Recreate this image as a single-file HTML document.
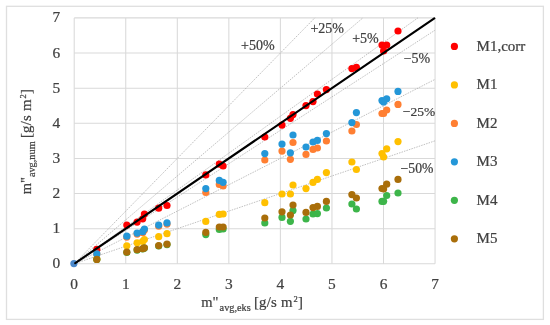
<!DOCTYPE html>
<html lang="en"><head><meta charset="utf-8"><title>Chart</title>
<style>html,body{margin:0;padding:0;background:#fff;}body{width:550px;height:325px;overflow:hidden;}svg{display:block;}text{font-family:"Liberation Serif", "DejaVu Serif", serif;fill:#404040;stroke:#404040;stroke-width:0.22px;}</style></head><body>
<svg width="550" height="325" viewBox="0 0 550 325">
<rect x="0" y="0" width="550" height="325" fill="#ffffff"/>
<rect x="6.5" y="6.3" width="536.9" height="313.1" fill="#fff" stroke="#dfdfdf" stroke-width="1.3"/>
<g stroke="#d9d9d9" stroke-width="1.05" fill="none"><line x1="74.20" y1="17.89" x2="74.20" y2="263.80"/><line x1="74.20" y1="263.80" x2="435.05" y2="263.80"/><line x1="125.75" y1="17.89" x2="125.75" y2="263.80"/><line x1="74.20" y1="228.67" x2="435.05" y2="228.67"/><line x1="177.30" y1="17.89" x2="177.30" y2="263.80"/><line x1="74.20" y1="193.54" x2="435.05" y2="193.54"/><line x1="228.85" y1="17.89" x2="228.85" y2="263.80"/><line x1="74.20" y1="158.41" x2="435.05" y2="158.41"/><line x1="280.40" y1="17.89" x2="280.40" y2="263.80"/><line x1="74.20" y1="123.28" x2="435.05" y2="123.28"/><line x1="331.95" y1="17.89" x2="331.95" y2="263.80"/><line x1="74.20" y1="88.15" x2="435.05" y2="88.15"/><line x1="383.50" y1="17.89" x2="383.50" y2="263.80"/><line x1="74.20" y1="53.02" x2="435.05" y2="53.02"/><line x1="435.05" y1="17.89" x2="435.05" y2="263.80"/><line x1="74.20" y1="17.89" x2="435.05" y2="17.89"/></g>
<g stroke="#9e9e9e" stroke-width="0.65" stroke-dasharray="1.5 1.1" fill="none"><line x1="74.20" y1="263.80" x2="314.77" y2="17.89"/><line x1="74.20" y1="263.80" x2="362.88" y2="17.89"/><line x1="74.20" y1="263.80" x2="417.87" y2="17.89"/><line x1="74.20" y1="263.80" x2="435.05" y2="30.19"/><line x1="74.20" y1="263.80" x2="435.05" y2="79.37"/><line x1="74.20" y1="263.80" x2="435.05" y2="140.84"/></g>
<g fill="#FF0000"><circle cx="96.8" cy="249.4" r="3.6"/><circle cx="126.8" cy="225.1" r="3.6"/><circle cx="137.1" cy="222.1" r="3.6"/><circle cx="142.7" cy="218.8" r="3.6"/><circle cx="144.4" cy="214.0" r="3.6"/><circle cx="158.7" cy="208.2" r="3.6"/><circle cx="167.0" cy="205.5" r="3.6"/><circle cx="205.8" cy="174.9" r="3.6"/><circle cx="219.3" cy="164.1" r="3.6"/><circle cx="223.1" cy="166.0" r="3.6"/><circle cx="264.8" cy="137.0" r="3.6"/><circle cx="282.0" cy="125.1" r="3.6"/><circle cx="290.4" cy="118.3" r="3.6"/><circle cx="293.0" cy="114.6" r="3.6"/><circle cx="306.0" cy="105.6" r="3.6"/><circle cx="313.0" cy="101.6" r="3.6"/><circle cx="317.4" cy="94.0" r="3.6"/><circle cx="326.4" cy="89.6" r="3.6"/><circle cx="351.9" cy="68.6" r="3.6"/><circle cx="356.4" cy="67.4" r="3.6"/><circle cx="382.0" cy="45.1" r="3.6"/><circle cx="383.6" cy="51.0" r="3.6"/><circle cx="386.7" cy="45.1" r="3.6"/><circle cx="398.0" cy="31.0" r="3.6"/></g>
<g fill="#FFC000"><circle cx="96.8" cy="259.0" r="3.6"/><circle cx="126.8" cy="245.8" r="3.6"/><circle cx="137.1" cy="242.8" r="3.6"/><circle cx="142.7" cy="241.4" r="3.6"/><circle cx="144.4" cy="239.5" r="3.6"/><circle cx="158.7" cy="236.7" r="3.6"/><circle cx="167.0" cy="233.7" r="3.6"/><circle cx="205.8" cy="221.4" r="3.6"/><circle cx="219.3" cy="214.4" r="3.6"/><circle cx="223.1" cy="214.0" r="3.6"/><circle cx="264.8" cy="202.7" r="3.6"/><circle cx="282.0" cy="194.0" r="3.6"/><circle cx="290.4" cy="194.0" r="3.6"/><circle cx="293.0" cy="185.0" r="3.6"/><circle cx="306.0" cy="188.6" r="3.6"/><circle cx="313.0" cy="182.4" r="3.6"/><circle cx="317.4" cy="179.4" r="3.6"/><circle cx="326.4" cy="172.6" r="3.6"/><circle cx="351.9" cy="162.0" r="3.6"/><circle cx="356.4" cy="169.5" r="3.6"/><circle cx="382.0" cy="153.6" r="3.6"/><circle cx="383.6" cy="157.0" r="3.6"/><circle cx="386.7" cy="148.8" r="3.6"/><circle cx="398.0" cy="141.6" r="3.6"/></g>
<g fill="#FF7F32"><circle cx="96.8" cy="254.1" r="3.6"/><circle cx="126.8" cy="237.1" r="3.6"/><circle cx="137.1" cy="234.1" r="3.6"/><circle cx="142.7" cy="232.7" r="3.6"/><circle cx="144.4" cy="230.1" r="3.6"/><circle cx="158.7" cy="226.2" r="3.6"/><circle cx="167.0" cy="224.1" r="3.6"/><circle cx="205.8" cy="192.5" r="3.6"/><circle cx="219.3" cy="184.4" r="3.6"/><circle cx="223.1" cy="186.0" r="3.6"/><circle cx="264.8" cy="160.0" r="3.6"/><circle cx="282.0" cy="151.1" r="3.6"/><circle cx="290.4" cy="159.3" r="3.6"/><circle cx="293.0" cy="142.5" r="3.6"/><circle cx="306.0" cy="154.4" r="3.6"/><circle cx="313.0" cy="149.4" r="3.6"/><circle cx="317.4" cy="148.0" r="3.6"/><circle cx="326.4" cy="141.0" r="3.6"/><circle cx="351.9" cy="131.0" r="3.6"/><circle cx="356.4" cy="124.5" r="3.6"/><circle cx="382.0" cy="113.5" r="3.6"/><circle cx="383.6" cy="113.5" r="3.6"/><circle cx="386.7" cy="110.0" r="3.6"/><circle cx="398.0" cy="104.4" r="3.6"/></g>
<g fill="#2497D8"><circle cx="96.8" cy="253.9" r="3.6"/><circle cx="126.8" cy="236.2" r="3.6"/><circle cx="137.1" cy="233.1" r="3.6"/><circle cx="142.7" cy="231.7" r="3.6"/><circle cx="144.4" cy="229.0" r="3.6"/><circle cx="158.7" cy="225.1" r="3.6"/><circle cx="167.0" cy="222.9" r="3.6"/><circle cx="205.8" cy="188.6" r="3.6"/><circle cx="219.3" cy="180.4" r="3.6"/><circle cx="223.1" cy="182.3" r="3.6"/><circle cx="264.8" cy="153.6" r="3.6"/><circle cx="282.0" cy="144.1" r="3.6"/><circle cx="290.4" cy="152.8" r="3.6"/><circle cx="293.0" cy="135.0" r="3.6"/><circle cx="306.0" cy="147.0" r="3.6"/><circle cx="313.0" cy="142.0" r="3.6"/><circle cx="317.4" cy="140.4" r="3.6"/><circle cx="326.4" cy="133.6" r="3.6"/><circle cx="351.9" cy="122.6" r="3.6"/><circle cx="356.4" cy="112.6" r="3.6"/><circle cx="382.0" cy="100.6" r="3.6"/><circle cx="383.6" cy="101.9" r="3.6"/><circle cx="386.7" cy="98.8" r="3.6"/><circle cx="398.0" cy="91.4" r="3.6"/></g>
<g fill="#3DB54A"><circle cx="96.8" cy="259.5" r="3.6"/><circle cx="126.8" cy="252.5" r="3.6"/><circle cx="137.1" cy="250.1" r="3.6"/><circle cx="142.7" cy="249.0" r="3.6"/><circle cx="144.4" cy="248.1" r="3.6"/><circle cx="158.7" cy="246.0" r="3.6"/><circle cx="167.0" cy="244.6" r="3.6"/><circle cx="205.8" cy="234.6" r="3.6"/><circle cx="219.3" cy="229.4" r="3.6"/><circle cx="223.1" cy="229.0" r="3.6"/><circle cx="264.8" cy="223.0" r="3.6"/><circle cx="282.0" cy="217.4" r="3.6"/><circle cx="290.4" cy="221.3" r="3.6"/><circle cx="293.0" cy="210.6" r="3.6"/><circle cx="306.0" cy="219.0" r="3.6"/><circle cx="313.0" cy="214.0" r="3.6"/><circle cx="317.4" cy="213.6" r="3.6"/><circle cx="326.4" cy="208.0" r="3.6"/><circle cx="351.9" cy="204.0" r="3.6"/><circle cx="356.4" cy="209.0" r="3.6"/><circle cx="382.0" cy="201.4" r="3.6"/><circle cx="383.6" cy="201.3" r="3.6"/><circle cx="386.7" cy="195.5" r="3.6"/><circle cx="398.0" cy="193.0" r="3.6"/></g>
<g fill="#A96E0A"><circle cx="96.8" cy="259.4" r="3.6"/><circle cx="126.8" cy="252.2" r="3.6"/><circle cx="137.1" cy="249.7" r="3.6"/><circle cx="142.7" cy="248.7" r="3.6"/><circle cx="144.4" cy="247.8" r="3.6"/><circle cx="158.7" cy="245.6" r="3.6"/><circle cx="167.0" cy="244.2" r="3.6"/><circle cx="205.8" cy="232.4" r="3.6"/><circle cx="219.3" cy="227.0" r="3.6"/><circle cx="223.1" cy="227.0" r="3.6"/><circle cx="264.8" cy="218.0" r="3.6"/><circle cx="282.0" cy="211.8" r="3.6"/><circle cx="290.4" cy="215.0" r="3.6"/><circle cx="293.0" cy="205.0" r="3.6"/><circle cx="306.0" cy="212.4" r="3.6"/><circle cx="313.0" cy="207.6" r="3.6"/><circle cx="317.4" cy="206.4" r="3.6"/><circle cx="326.4" cy="201.4" r="3.6"/><circle cx="351.9" cy="194.6" r="3.6"/><circle cx="356.4" cy="198.0" r="3.6"/><circle cx="382.0" cy="188.5" r="3.6"/><circle cx="383.6" cy="189.0" r="3.6"/><circle cx="386.7" cy="184.2" r="3.6"/><circle cx="398.0" cy="179.4" r="3.6"/></g>
<circle cx="73.9" cy="263.6" r="3.6" fill="#4A88CB"/>
<line x1="75.23" y1="263.10" x2="434.28" y2="18.42" stroke="#000" stroke-width="2.15" stroke-linecap="round"/>
<text x="74.2" y="289.4" text-anchor="middle" font-size="15.4">0</text><text x="56.3" y="268.3" text-anchor="middle" font-size="15.4">0</text><text x="125.8" y="289.4" text-anchor="middle" font-size="15.4">1</text><text x="56.3" y="233.2" text-anchor="middle" font-size="15.4">1</text><text x="177.3" y="289.4" text-anchor="middle" font-size="15.4">2</text><text x="56.3" y="198.0" text-anchor="middle" font-size="15.4">2</text><text x="228.8" y="289.4" text-anchor="middle" font-size="15.4">3</text><text x="56.3" y="162.9" text-anchor="middle" font-size="15.4">3</text><text x="280.4" y="289.4" text-anchor="middle" font-size="15.4">4</text><text x="56.3" y="127.8" text-anchor="middle" font-size="15.4">4</text><text x="331.9" y="289.4" text-anchor="middle" font-size="15.4">5</text><text x="56.3" y="92.7" text-anchor="middle" font-size="15.4">5</text><text x="383.5" y="289.4" text-anchor="middle" font-size="15.4">6</text><text x="56.3" y="57.5" text-anchor="middle" font-size="15.4">6</text><text x="435.0" y="289.4" text-anchor="middle" font-size="15.4">7</text><text x="56.3" y="22.4" text-anchor="middle" font-size="15.4">7</text>
<text x="257.8" y="49.7" text-anchor="middle" font-size="14.0" stroke-width="0.1">+50%</text>
<text x="327.2" y="32.8" text-anchor="middle" font-size="14.0" stroke-width="0.1">+25%</text>
<text x="365.5" y="43.2" text-anchor="middle" font-size="14.0" stroke-width="0.1">+5%</text>
<text x="417.0" y="62.7" text-anchor="middle" font-size="14.0" stroke-width="0.1">−5%</text>
<text x="419.0" y="116.0" text-anchor="middle" font-size="13.5" stroke-width="0.1">−25%</text>
<text x="417.0" y="173.3" text-anchor="middle" font-size="13.7" stroke-width="0.1">−50%</text>
<circle cx="454.4" cy="46.4" r="3.6" fill="#FF0000"/>
<text x="476.6" y="50.8" font-size="15">M1,corr</text>
<circle cx="454.4" cy="84.9" r="3.6" fill="#FFC000"/>
<text x="476.6" y="89.3" font-size="15">M1</text>
<circle cx="454.4" cy="123.4" r="3.6" fill="#FF7F32"/>
<text x="476.6" y="127.8" font-size="15">M2</text>
<circle cx="454.4" cy="161.8" r="3.6" fill="#2497D8"/>
<text x="476.6" y="166.2" font-size="15">M3</text>
<circle cx="454.4" cy="200.3" r="3.6" fill="#3DB54A"/>
<text x="476.6" y="204.7" font-size="15">M4</text>
<circle cx="454.4" cy="238.8" r="3.6" fill="#A96E0A"/>
<text x="476.6" y="243.2" font-size="15">M5</text>
<text x="201.2" y="306.9" font-size="14.5">m"</text><text x="219.6" y="311.1" font-size="10.3" fill="#505050" stroke="none">avg,eks</text><text x="253.9" y="306.9" font-size="14.8" letter-spacing="0.25">[g/s m<tspan font-size="8.5" dy="-5.2" dx="0.6">2</tspan><tspan dy="5.2">]</tspan></text>
<g transform="translate(31.2,193.9) rotate(-90)"><text x="-0.3" y="0.0" font-size="14.5">m"</text><text x="16.8" y="4.2" font-size="10.3" fill="#505050" stroke="none">avg,num</text><text x="55.8" y="0.0" font-size="14.8" letter-spacing="0.25">[g/s m<tspan font-size="8.5" dy="-5.2" dx="0.6">2</tspan><tspan dy="5.2">]</tspan></text></g>
</svg></body></html>
